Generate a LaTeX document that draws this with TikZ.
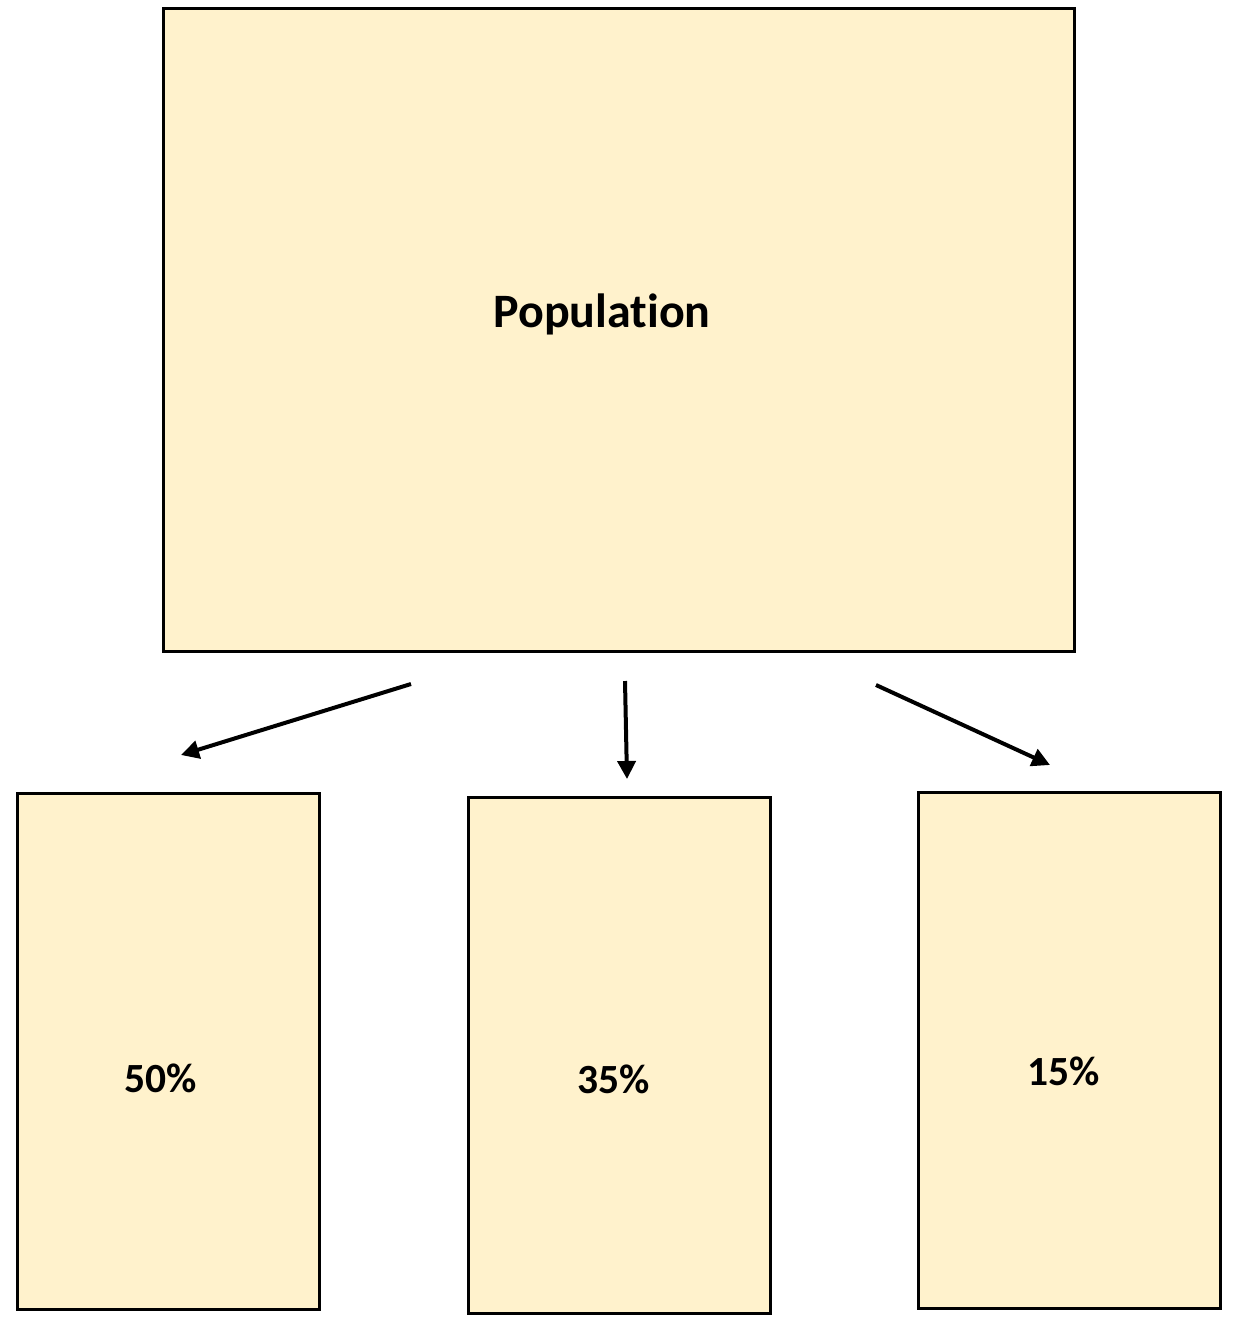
\documentclass[tikz,border=0pt]{standalone}
\usepackage{fontspec}
\setmainfont[Ligatures=NoCommon,RawFeature=-liga]{Carlito}
\usetikzlibrary{arrows.meta}
\definecolor{boxfill}{HTML}{FFF2CC}
\begin{document}
\begin{tikzpicture}[x=1pt,y=-1pt,
  box/.style={draw=black,line width=3pt,fill=boxfill,inner sep=0pt,anchor=north west},
  conn/.style={line width=4pt,-{Triangle[length=18pt,width=18pt]}},
  lbl/.style={font=\bfseries\fontsize{41.5}{48}\selectfont}]
\useasboundingbox (0,0) rectangle (1239,1331);
\node[box,minimum width=911pt,minimum height=643pt] (pop) at (161.5,6.5) {};
\node[font=\bfseries\fontsize{48}{56}\selectfont] (poptxt) at (602,314) {Population};
\node[box,minimum width=302pt,minimum height=516pt] (a) at (15.5,791.5) {};
\node[box,minimum width=302pt,minimum height=516pt] (b) at (466.5,795.5) {};
\node[box,minimum width=302pt,minimum height=516pt] (c) at (916.5,790.5) {};
\node[lbl] (ta) at (161,1078) {50\%};
\node[lbl] (tb) at (614,1079) {35\%};
\node[lbl] (tc) at (1064,1071) {15\%};
\coordinate (s1) at (411,684);
\coordinate (e1) at (181,755);
\coordinate (s2) at (625,681);
\coordinate (e2) at (627,779);
\coordinate (s3) at (876,685);
\coordinate (e3) at (1050,765);
\draw[conn] (s1) -- (e1);
\draw[conn] (s2) -- (e2);
\draw[conn] (s3) -- (e3);
\end{tikzpicture}
\end{document}
